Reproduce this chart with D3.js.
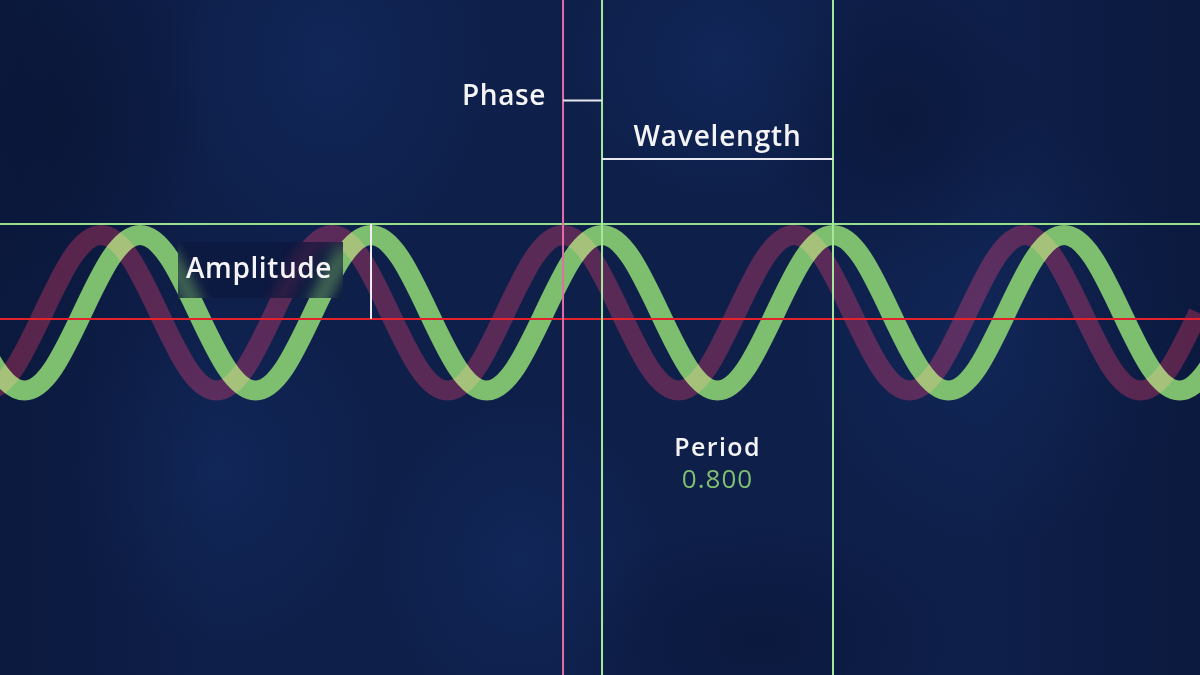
<!DOCTYPE html>
<html>
<head>
<meta charset="utf-8">
<script src="https://cdn.jsdelivr.net/npm/d3@7"></script>
<style>
  html, body { margin: 0; padding: 0; background: #0e1f4a; }
  svg { display: block; }
  .lbl { font-family: "Open Sans", sans-serif; font-weight: 600; fill: #f4f4f6; }
</style>
</head>
<body>
<svg id="chart" width="1200" height="675"></svg>
<script>
// wave samples (time in s, displacement in amplitude units)
const waveT = [-2.2,-2.1,-2.0,-1.9,-1.8,-1.7,-1.6,-1.5,-1.4,-1.3,-1.2,-1.1,-1.0,-0.9,-0.8,-0.7,-0.6,-0.5,-0.4,-0.3,-0.2,-0.1,
               0,0.1,0.2,0.3,0.4,0.5,0.6,0.7,0.8,0.9,1.0,1.1,1.2,1.3,1.4,1.5,1.6,1.7,1.8,1.9,2.0,2.1,2.2];
const waveY = [0,-0.71,-1,-0.71,0,0.71,1,0.71,0,-0.71,-1,-0.71,0,0.71,1,0.71,0,-0.71,-1,-0.71,0,0.71,
               1,0.71,0,-0.71,-1,-0.71,0,0.71,1,0.71,0,-0.71,-1,-0.71,0,0.71,1,0.71,0,-0.71,-1,-0.71,0];

const period = 0.8;          // one wavelength, shown as "Period"
const phaseShift = 0.135;    // red wave leads the green one by this much
const crestLevel = 1.14;     // green guide line along the crests
const axisLevel = -0.08;     // red rest line
const periodLabel = "0.800";

const svg = d3.select("#chart");
const W = 1200, H = 675;

const x = d3.scaleLinear().domain([-2.085, 2.071]).range([0, W]);
const y = d3.scaleLinear().domain([-1, 1]).range([390.5, 235]);

const pts = waveT.map((t, i) => ({t: t, v: waveY[i]}));

// background
const defs = svg.append("defs");
function radial(id, stops) {
  const g = defs.append("radialGradient").attr("id", id);
  stops.forEach(s => g.append("stop").attr("offset", s[0]).attr("stop-color", s[1]).attr("stop-opacity", s[2]));
}
radial("glow", [["0%", "#12295c", 0.8], ["100%", "#12295c", 0]]);
radial("dark", [["0%", "#0a1638", 0.7], ["100%", "#0a1638", 0]]);

const lin = defs.append("linearGradient").attr("id", "edges");
[["0%", 0.45], ["18%", 0], ["82%", 0], ["100%", 0.45]].forEach(s =>
  lin.append("stop").attr("offset", s[0]).attr("stop-color", "#08122f").attr("stop-opacity", s[1]));

defs.append("filter").attr("id", "blur")
  .attr("x", "-20%").attr("y", "-50%").attr("width", "140%").attr("height", "200%")
  .append("feGaussianBlur").attr("stdDeviation", 6);

svg.append("rect").attr("width", W).attr("height", H).attr("fill", "#0e1f4a");
const bg = svg.append("g");
[[330, 60, 160, 200, "glow"], [520, 560, 140, 160, "glow"], [720, 60, 150, 140, "glow"],
 [1000, 330, 200, 220, "glow"], [220, 470, 160, 180, "glow"], [900, 120, 140, 160, "dark"],
 [60, 120, 140, 200, "dark"], [760, 640, 200, 120, "dark"]].forEach(b => {
  bg.append("ellipse").attr("cx", b[0]).attr("cy", b[1]).attr("rx", b[2]).attr("ry", b[3])
    .attr("fill", "url(#" + b[4] + ")");
});
svg.append("rect").attr("width", W).attr("height", H).attr("fill", "url(#edges)");

const line = d3.line().x(d => x(d.t)).y(d => y(d.v)).curve(d3.curveNatural);
const lineShifted = d3.line().x(d => x(d.t - phaseShift)).y(d => y(d.v)).curve(d3.curveNatural);

const waves = svg.append("g");
waves.append("path").attr("d", line(pts))
  .attr("fill", "none").attr("stroke", "#7dbe6f").attr("stroke-width", 20);
waves.append("path").attr("d", lineShifted(pts))
  .attr("fill", "none").attr("stroke", "#500c12").attr("stroke-width", 20)
  .style("mix-blend-mode", "screen");

// frosted label box for Amplitude
const box = {x: 178, y: 242, w: 165, h: 56};
defs.append("clipPath").attr("id", "boxClip")
  .append("rect").attr("x", box.x).attr("y", box.y).attr("width", box.w).attr("height", box.h);
const frost = svg.append("g").attr("clip-path", "url(#boxClip)");
frost.append("rect").attr("x", box.x).attr("y", box.y).attr("width", box.w).attr("height", box.h).attr("fill", "#0e1f4a");
const blurred = frost.append("g").attr("filter", "url(#blur)");
blurred.append("path").attr("d", line(pts))
  .attr("fill", "none").attr("stroke", "#7dbe6f").attr("stroke-width", 20);
blurred.append("path").attr("d", lineShifted(pts))
  .attr("fill", "none").attr("stroke", "#5b2a55").attr("stroke-width", 20).attr("opacity", 0.9);
frost.append("rect").attr("x", box.x).attr("y", box.y).attr("width", box.w).attr("height", box.h)
  .attr("fill", "#0b1438").attr("opacity", 0.55);

// guide lines
svg.append("line").attr("x1", 0).attr("x2", W).attr("y1", y(crestLevel)).attr("y2", y(crestLevel))
  .attr("stroke", "#98e08c").attr("stroke-width", 2);
svg.append("line").attr("x1", 0).attr("x2", W).attr("y1", y(axisLevel)).attr("y2", y(axisLevel))
  .attr("stroke", "#e3222b").attr("stroke-width", 2);

svg.append("line").attr("x1", x(-phaseShift)).attr("x2", x(-phaseShift)).attr("y1", 0).attr("y2", H)
  .attr("stroke", "#e46ea4").attr("stroke-width", 2);
[0, period].forEach(t => {
  svg.append("line").attr("x1", x(t)).attr("x2", x(t)).attr("y1", 0).attr("y2", H)
    .attr("stroke", "#a6e89a").attr("stroke-width", 2);
});

// brackets
svg.append("line").attr("x1", x(-phaseShift)).attr("x2", x(0)).attr("y1", 100.5).attr("y2", 100.5)
  .attr("stroke", "#e8e8ee").attr("stroke-width", 2);
svg.append("line").attr("x1", x(0)).attr("x2", x(period)).attr("y1", 159).attr("y2", 159)
  .attr("stroke", "#e8e8ee").attr("stroke-width", 2);
svg.append("line").attr("x1", x(-period)).attr("x2", x(-period)).attr("y1", y(crestLevel)).attr("y2", y(axisLevel))
  .attr("stroke", "#f0f0f4").attr("stroke-width", 2);

// labels
const mid = (x(0) + x(period)) / 2;
svg.append("text").attr("class", "lbl").attr("x", 546).attr("y", 105)
  .attr("text-anchor", "end").attr("font-size", 28).attr("letter-spacing", 0.6).text("Phase");
svg.append("text").attr("class", "lbl").attr("x", mid).attr("y", 146)
  .attr("text-anchor", "middle").attr("font-size", 28).attr("letter-spacing", 0.8).text("Wavelength");
svg.append("text").attr("class", "lbl").attr("x", 186).attr("y", 278)
  .attr("font-size", 28).attr("letter-spacing", 0.6).text("Amplitude");
svg.append("text").attr("class", "lbl").attr("x", mid).attr("y", 456)
  .attr("text-anchor", "middle").attr("font-size", 25).attr("letter-spacing", 1.4).text("Period");
svg.append("text").attr("x", mid).attr("y", 488)
  .attr("text-anchor", "middle").attr("font-size", 26).attr("letter-spacing", 1)
  .attr("font-family", "'Open Sans', sans-serif").attr("fill", "#7fbf70").text(periodLabel);
</script>
</body>
</html>
